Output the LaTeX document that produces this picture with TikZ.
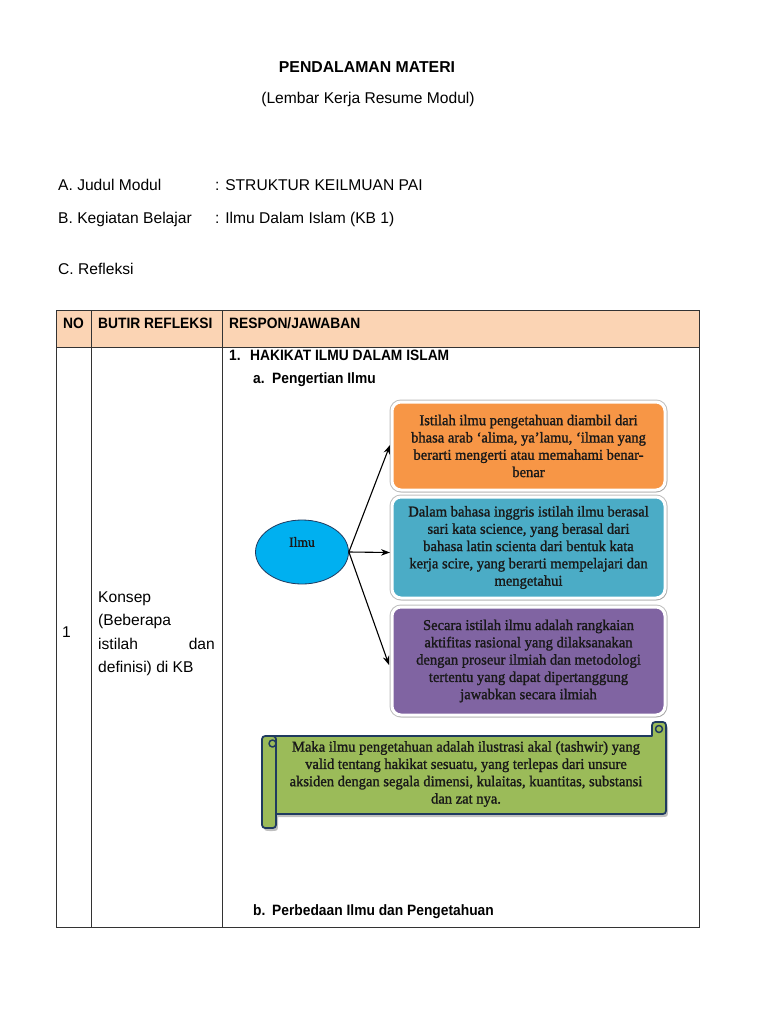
\documentclass[tikz,border=0pt]{standalone}
\usepackage{fontspec}
\setmainfont{Liberation Sans}
\newfontfamily\narrowfont{Liberation Sans}[FakeStretch=0.92]
\newfontfamily\boxfont{Liberation Serif}[FakeBold=1.3, FakeStretch=0.97]
\usetikzlibrary{arrows.meta,shadows,shapes.geometric}
\definecolor{hdrfill}{HTML}{FBD4B4}
\definecolor{boxorange}{HTML}{F79646}
\definecolor{boxblue}{HTML}{4BACC6}
\definecolor{boxpurple}{HTML}{8064A2}
\definecolor{scrollgreen}{HTML}{9BBB59}
\definecolor{scrollline}{HTML}{1F3A5F}
\definecolor{ellfill}{HTML}{00B0F0}
\def\scrollshape{(262,743) .. controls (262,736) .. (269,736) -- (652,736) -- (652,729) .. controls (652,722) .. (659,722) .. controls (666,722) .. (666,729) -- (666,807) .. controls (666,814) .. (659,814) -- (276,814) -- (276,821) .. controls (276,828) .. (269,828) .. controls (262,828) .. (262,821) -- cycle}
\tikzset{
  body/.style={font=\fontsize{15.6}{18}\selectfont, inner sep=0pt, anchor=base west},
  bodyb/.style={body, font=\fontsize{15.8}{18}\selectfont\bfseries},
  tbl/.style={font=\fontsize{15}{18}\selectfont\narrowfont\bfseries, inner sep=0pt, anchor=base west},
  cell/.style={font=\fontsize{15.6}{18}\selectfont, inner sep=0pt, anchor=base west},
  grid/.style={draw=black!80, line width=0.8pt},
  cbox/.style={rounded corners=9pt, fill=#1, draw=white, line width=3pt,
    preaction={draw=black!25, line width=5pt},
    drop shadow={shadow xshift=1.5pt, shadow yshift=-2pt, opacity=0.3, fill=black!60},
    minimum width=273pt, inner sep=0pt, outer sep=0pt, align=center,
    font=\fontsize{15}{17.3}\selectfont\boxfont, text=black!90},
  boxtxt/.style={inner sep=0pt, align=center, font=\fontsize{15}{17.3}\selectfont\boxfont, text=black!90},
  ilmustyle/.style={ellipse, fill=ellfill, draw=scrollline, line width=0.8pt, minimum width=93pt, minimum height=64pt, inner sep=0pt},
  conn/.style={-{Stealth[length=9pt,width=6.5pt]}, line width=1.1pt, draw=black},
  scrolldraw/.style={draw=scrollline, line width=1.8pt, line join=round}
}
\begin{document}
\begin{tikzpicture}[x=1pt,y=-1pt]
\useasboundingbox[fill=white] (0,0) rectangle (768,1024);

% title
\node[bodyb, anchor=base] (title) at (367,73) {PENDALAMAN MATERI};
\node[body, anchor=base] (subtitle) at (368,104) {(Lembar Kerja Resume Modul)};

\node[body] (la) at (58,190.5) {A. Judul Modul};
\node[body] (lav) at (215,190.5) {: STRUKTUR KEILMUAN PAI};
\node[body] (lb) at (58,223.5) {B. Kegiatan Belajar};
\node[body] (lbv) at (215,223.5) {: Ilmu Dalam Islam (KB 1)};
\node[body] (lc) at (58,274.5) {C. Refleksi};

% table
\fill[hdrfill] (56,310) rectangle (699,347);
\draw[grid] (56,310) rectangle (699,927);
\draw[grid] (56,347) -- (699,347);
\draw[grid] (91,310) -- (91,927);
\draw[grid] (222,310) -- (222,927);

\node[tbl] (hno) at (63,328) {NO};
\node[tbl] (hbutir) at (98,328) {BUTIR REFLEKSI};
\node[tbl] (hrespon) at (229,328) {RESPON/JAWABAN};

\node[tbl] (n1) at (229,360) {1.};
\node[tbl] (hakikat) at (250,360) {HAKIKAT ILMU DALAM ISLAM};
\node[tbl] (na) at (253,383) {a.};
\node[tbl] (pengertian) at (272,383) {Pengertian Ilmu};
\node[tbl] (nb) at (253,915.5) {b.};
\node[tbl] (perbedaan) at (272,915.5) {Perbedaan Ilmu dan Pengetahuan};

\node[cell] (no1) at (62,637) {1};
\node[cell] (k1) at (98,602) {Konsep};
\node[cell] (k2) at (98,625.5) {(Beberapa};
\node[cell] (k3) at (98,649) {istilah};
\node[cell, anchor=base east] (k3b) at (215,649) {dan};
\node[cell] (k4) at (98,672.5) {definisi) di KB};

% boxes
\node[cbox=boxorange, minimum height=88pt] (orange) at (528.5,446) {Istilah ilmu pengetahuan diambil dari\\bhasa arab ‘alima, ya’lamu, ‘ilman yang\\berarti mengerti atau memahami benar-\\benar};
\node[cbox=boxblue, minimum height=101pt] (blue) at (528.5,547.5) {Dalam bahasa inggris istilah ilmu berasal\\sari kata science, yang berasal dari\\bahasa latin scienta dari bentuk kata\\kerja scire, yang berarti mempelajari dan\\mengetahui};
\node[cbox=boxpurple, minimum height=108pt] (purple) at (528.5,661) {Secara istilah ilmu adalah rangkaian\\aktifitas rasional yang dilaksanakan\\dengan proseur ilmiah dan metodologi\\tertentu yang dapat dipertanggung\\jawabkan secara ilmiah};

% ellipse and connectors
\node[ilmustyle] (ilmu) at (302,552) {};
\node[boxtxt, font=\fontsize{14}{16}\selectfont\boxfont] (ilmulbl) at (302,542) {Ilmu};
\coordinate (e1) at (390,445);
\coordinate (e2) at (390,552.5);
\coordinate (e3) at (389,665);
\draw[conn] (ilmu.east) -- (e1);
\draw[conn] (ilmu.east) -- (e2);
\draw[conn] (ilmu.east) -- (e3);

% scroll
\fill[black, opacity=0.25, shift={(2,3)}] \scrollshape;
\filldraw[fill=scrollgreen, scrolldraw] \scrollshape;
\draw[scrolldraw] (269,736) .. controls (276,736) .. (276,743) -- (276,814);
\filldraw[fill=scrollgreen, scrolldraw, line width=1.5pt] (272.5,743.5) circle (3.5);
\filldraw[fill=scrollgreen, scrolldraw, line width=1.5pt] (659,729) circle (3.5);
\node[boxtxt] (scrolltxt) at (466,774) {Maka ilmu pengetahuan adalah ilustrasi akal (tashwir) yang\\valid tentang hakikat sesuatu, yang terlepas dari unsure\\aksiden dengan segala dimensi, kulaitas, kuantitas, substansi\\dan zat nya.};
\end{tikzpicture}
\end{document}
